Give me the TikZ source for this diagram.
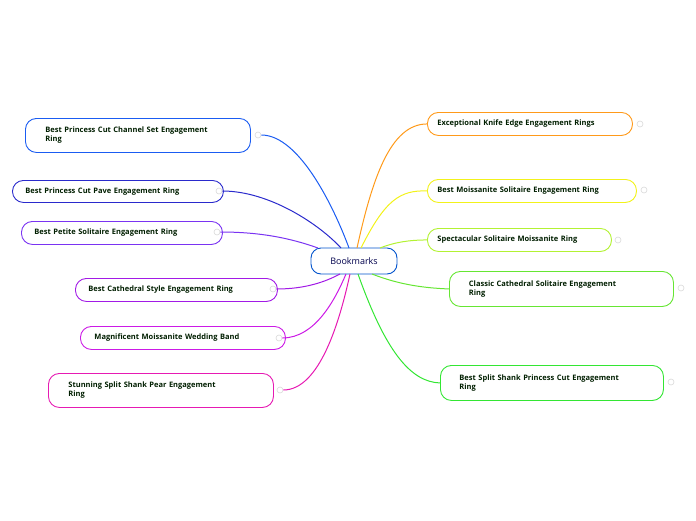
\documentclass[tikz,border=0pt]{standalone}
\usepackage{fontspec}
\setmainfont{Open Sans}
\begin{document}
\begin{tikzpicture}[x=1pt,y=-1pt,
  leaf/.style={draw=#1,line width=0.9pt,rounded corners=11pt,fill=white,text=black!70!green!40!black,font=\fontsize{7.5}{9}\selectfont\bfseries,align=left,anchor=north west,inner sep=0pt},
  dot/.style={circle,draw=black!15,fill=white,line width=0.6pt,inner sep=0pt,minimum size=6pt},
  con/.style={line width=1pt,draw=#1}]
\useasboundingbox (0,0) rectangle (696,520);
\definecolor{cA}{HTML}{FF9A1A}\definecolor{cB}{HTML}{F2F21A}\definecolor{cC}{HTML}{B3F233}
\definecolor{cD}{HTML}{66E633}\definecolor{cE}{HTML}{33E633}
\definecolor{lA}{HTML}{1A5CF2}\definecolor{lB}{HTML}{2A2ACC}\definecolor{lC}{HTML}{7A33F2}
\definecolor{lD}{HTML}{A21AE6}\definecolor{lE}{HTML}{CC1AE6}\definecolor{lF}{HTML}{E61AB3}
\node[draw=blue!60!cyan!80!black,line width=0.9pt,rounded corners=10pt,minimum width=86pt,minimum height=26pt,font=\fontsize{9}{11}\selectfont,text=blue!30!black] (c) at (354,261) {Bookmarks};
% right
\node[leaf=cA,minimum width=205pt,minimum height=23pt,text width=185pt,inner xsep=10pt] (r1) at (427,112) {Exceptional Knife Edge Engagement Rings};
\node[leaf=cB,minimum width=209pt,minimum height=23pt,text width=189pt,inner xsep=10pt] (r2) at (427,179) {Best Moissanite Solitaire Engagement Ring};
\node[leaf=cC,minimum width=184pt,minimum height=23pt,text width=164pt,inner xsep=10pt] (r3) at (427,228) {Spectacular Solitaire Moissanite Ring};
\node[leaf=cD,minimum width=224pt,minimum height=35pt,text width=185pt,inner xsep=19pt] (r4) at (449,271) {Classic Cathedral Solitaire Engagement\\Ring};
\node[leaf=cE,minimum width=223pt,minimum height=35pt,text width=185pt,inner xsep=18pt] (r5) at (440,365) {Best Split Shank Princess Cut Engagement\\Ring};
\node[dot] (d1) at (640,124) {};\node[dot] (d2) at (644,190) {};\node[dot] (d3) at (618,240) {};
\node[dot] (d4) at (681,288) {};\node[dot] (d5) at (671,382) {};
% left
\node[leaf=lA,minimum width=225pt,minimum height=34pt,text width=185pt,inner xsep=20pt] (l1) at (25,118) {Best Princess Cut Channel Set Engagement\\Ring};
\node[leaf=lB,minimum width=199pt,minimum height=22pt,text width=185pt,inner xsep=13pt] (l2) at (12,180) {Best Princess Cut Pave Engagement Ring};
\node[leaf=lC,minimum width=188pt,minimum height=23pt,text width=175pt,inner xsep=13pt] (l3) at (21,221) {Best Petite Solitaire Engagement Ring};
\node[leaf=lD,minimum width=190pt,minimum height=23pt,text width=176pt,inner xsep=13pt] (l4) at (75,278) {Best Cathedral Style Engagement Ring};
\node[leaf=lE,minimum width=191pt,minimum height=23pt,text width=177pt,inner xsep=14pt] (l5) at (80,326) {Magnificent Moissanite Wedding Band};
\node[leaf=lF,minimum width=224pt,minimum height=34pt,text width=185pt,inner xsep=20pt] (l6) at (48,373) {Stunning Split Shank Pear Engagement\\Ring};
\node[dot] (e1) at (258,135) {};\node[dot] (e2) at (219,191) {};\node[dot] (e3) at (217,232) {};
\node[dot] (e4) at (273,289) {};\node[dot] (e5) at (279,338) {};\node[dot] (e6) at (280,390) {};
% connectors
\coordinate (t1) at (357,248);\coordinate (t2) at (361,248);\coordinate (t3) at (380,248);
\coordinate (b4) at (372,274);\coordinate (b5) at (358,274);
\draw[con=cA] (t1) .. controls (372,180) and (390,124) .. (r1.west);
\draw[con=cB] (t2) .. controls (385,200) and (400,190) .. (r2.west);
\draw[con=cC] (t3) .. controls (395,242) and (410,240) .. (r3.west);
\draw[con=cD] (b4) .. controls (400,285) and (425,288) .. (r4.west);
\draw[con=cE] (b5) .. controls (385,350) and (410,382) .. (r5.west);
\coordinate (u1) at (349,248);\coordinate (u2) at (341,248);\coordinate (u3) at (318,248);
\coordinate (v4) at (340,274);\coordinate (v5) at (346,274);\coordinate (v6) at (350,274);
\draw[con=lA] (e1.east) .. controls (300,135) and (335,210) .. (u1);
\draw[con=lB] (e2.east) .. controls (270,191) and (320,225) .. (u2);
\draw[con=lC] (e3.east) .. controls (260,232) and (290,238) .. (u3);
\draw[con=lD] (e4.east) .. controls (305,289) and (325,282) .. (v4);
\draw[con=lE] (e5.east) .. controls (315,338) and (335,300) .. (v5);
\draw[con=lF] (e6.east) .. controls (320,390) and (340,320) .. (v6);
\end{tikzpicture}
\end{document}
